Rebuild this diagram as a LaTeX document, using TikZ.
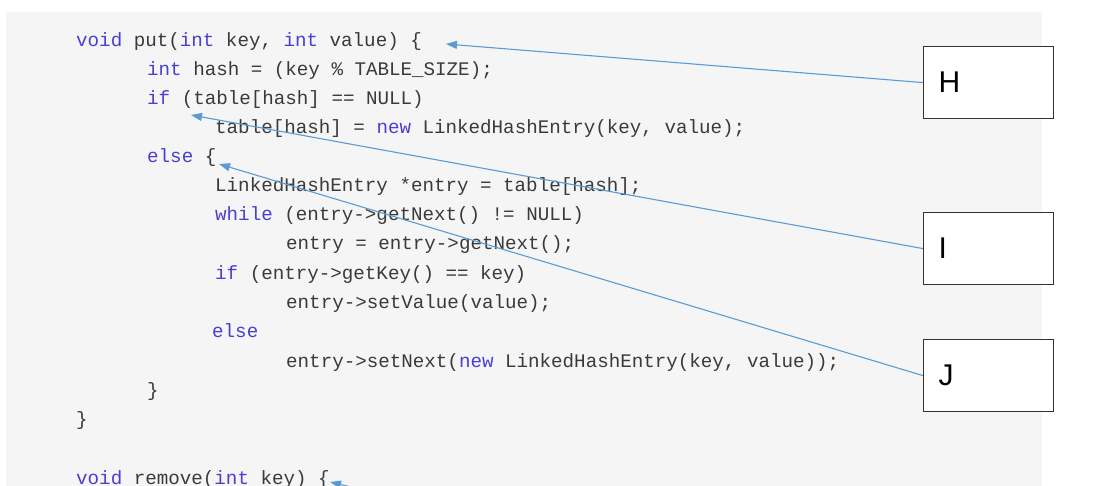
\documentclass[tikz,border=0pt]{standalone}
\usepackage{fontspec}
\setmainfont{Liberation Sans}
\newfontfamily\codefont{Liberation Mono}
\usetikzlibrary{arrows.meta}
\definecolor{bg}{HTML}{F5F5F5}
\definecolor{kw}{HTML}{4B3FD0}
\definecolor{txt}{HTML}{3A3A3A}
\definecolor{arr}{HTML}{5B9BD5}
\newcommand{\kwd}[1]{\textcolor{kw}{#1}}
\begin{document}
\begin{tikzpicture}[x=1pt,y=-1pt,
  code/.style={anchor=base west,inner sep=0pt,text=txt,font=\codefont\fontsize{19.2}{20}\selectfont},
  lbl/.style={draw=black!80,line width=1.2pt,fill=white,minimum width=130pt,minimum height=72pt,anchor=north west,font=\fontsize{30}{32}\selectfont,text width=100pt,align=left,inner xsep=13pt},
  conn/.style={arr,line width=1.1pt,-{Triangle[length=11pt,width=8pt]}}]
\useasboundingbox (0,0) rectangle (1096,486);
\fill[bg] (6,12) rectangle (1042,486);
\node[code] (l1) at (76,47) {\kwd{void} put(\kwd{int} key, \kwd{int} value) \{};
\node[code] (l2) at (147,76) {\kwd{int} hash = (key \% TABLE\_SIZE);};
\node[code] (l3) at (147,105) {\kwd{if} (table[hash] == NULL)};
\node[code] (l4) at (215,134) {table[hash] = \kwd{new} LinkedHashEntry(key, value);};
\node[code] (l5) at (147,163) {\kwd{else} \{};
\node[code] (l6) at (215,192) {LinkedHashEntry *entry = table[hash];};
\node[code] (l7) at (215,221) {\kwd{while} (entry->getNext() != NULL)};
\node[code] (l8) at (286,250) {entry = entry->getNext();};
\node[code] (l9) at (215,280) {\kwd{if} (entry->getKey() == key)};
\node[code] (l10) at (286,309) {entry->setValue(value);};
\node[code] (l11) at (212,338) {\kwd{else}};
\node[code] (l12) at (286,368) {entry->setNext(\kwd{new} LinkedHashEntry(key, value));};
\node[code] (l13) at (147,397) {\}};
\node[code] (l14) at (76,426) {\}};
\node[code] (l15) at (76,484) {\kwd{void} remove(\kwd{int} key) \{};
\node[lbl] (H) at (923,46) {H};
\node[lbl] (I) at (923,212) {I};
\node[lbl] (J) at (923,339) {J};
\coordinate (Ht) at (446,44);
\coordinate (It) at (191,115);
\coordinate (Jt) at (219,164);
\coordinate (Rt) at (330,482);
\coordinate (Rs) at (372,492);
\draw[conn] (H.west) -- (Ht);
\draw[conn] (I.west) -- (It);
\draw[conn] (J.west) -- (Jt);
\draw[conn] (Rs) -- (Rt);
\end{tikzpicture}
\end{document}
